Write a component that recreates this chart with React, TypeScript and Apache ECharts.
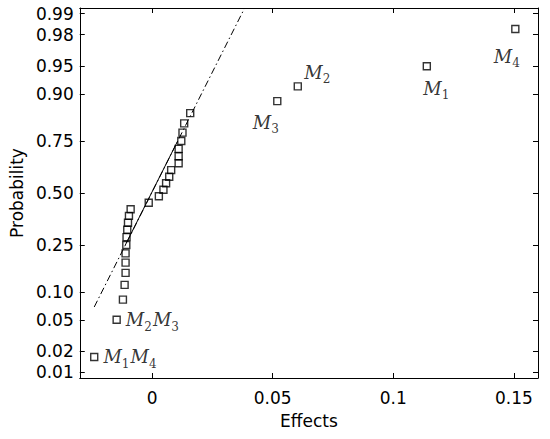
import React, { useEffect, useRef } from "react";
import * as echarts from "echarts";

// Sorted effects and their plotting probabilities
const effects = [
  -0.024, -0.0147, -0.0121, -0.0114, -0.011, -0.011, -0.011, -0.0107, -0.0106, -0.0103,
  -0.01, -0.0096, -0.0089, -0.0014, 0.0028, 0.0047, 0.0058, 0.0071, 0.0079, 0.011,
  0.011, 0.011, 0.0121, 0.0126, 0.0133, 0.0158, 0.0519, 0.0604, 0.1139, 0.1506,
];
const probabilities = [
  0.0167, 0.05, 0.0833, 0.1167, 0.15, 0.1833, 0.2167, 0.25, 0.2833, 0.3167,
  0.35, 0.3833, 0.4167, 0.45, 0.4833, 0.5167, 0.55, 0.5833, 0.6167, 0.65,
  0.6833, 0.7167, 0.75, 0.7833, 0.8167, 0.85, 0.8833, 0.9167, 0.95, 0.9833,
];

// Labelled points: index in the arrays above, subscripts
const labelIndex = [0, 1, 26, 27, 28, 29];
const labelSubs = [["1", "4"], ["2", "3"], ["3"], ["2"], ["1"], ["4"]];

// Reference line (dash-dot) and its central solid part, [effect, probability]
const refLine = [
  [-0.024, 0.0696],
  [0.0383, 0.9917],
];
const refSolid = [
  [-0.0111, 0.25],
  [0.0106, 0.75],
];

const probTicks = [0.01, 0.02, 0.05, 0.1, 0.25, 0.5, 0.75, 0.9, 0.95, 0.98, 0.99];
const effectTicks = [0, 0.05, 0.1, 0.15];

function norminv(p: number): number {
  const a = [-3.969683028665376e1, 2.209460984245205e2, -2.759285104469687e2, 1.38357751867269e2, -3.066479806614716e1, 2.506628277459239];
  const b = [-5.447609879822406e1, 1.615858368580409e2, -1.556989798598866e2, 6.680131188771972e1, -1.328068155288572e1];
  const c = [-7.784894002430293e-3, -3.223964580411365e-1, -2.400758277161838, -2.549732539343734, 4.374664141464968, 2.938163982698783];
  const d = [7.784695709041462e-3, 3.224671290700398e-1, 2.445134137142996, 3.754408661907416];
  const pl = 0.02425;
  if (p < pl) {
    const q = Math.sqrt(-2 * Math.log(p));
    return (((((c[0] * q + c[1]) * q + c[2]) * q + c[3]) * q + c[4]) * q + c[5]) / ((((d[0] * q + d[1]) * q + d[2]) * q + d[3]) * q + 1);
  }
  if (p <= 1 - pl) {
    const q = p - 0.5;
    const r = q * q;
    return ((((((a[0] * r + a[1]) * r + a[2]) * r + a[3]) * r + a[4]) * r + a[5]) * q) / (((((b[0] * r + b[1]) * r + b[2]) * r + b[3]) * r + b[4]) * r + 1);
  }
  const q = Math.sqrt(-2 * Math.log(1 - p));
  return -(((((c[0] * q + c[1]) * q + c[2]) * q + c[3]) * q + c[4]) * q + c[5]) / ((((d[0] * q + d[1]) * q + d[2]) * q + d[3]) * q + 1);
}

const SANS = "DejaVu Sans";
const SERIF = "DejaVu Serif";

export default function App() {
  const ref = useRef<HTMLDivElement>(null);
  useEffect(() => {
    document.body.style.margin = "0";
    if (!ref.current) return;
    const chart = echarts.init(ref.current, null, { renderer: "svg" });
    const zTicks = probTicks.map(norminv);
    const labelFmt = (v: number) => {
      for (let i = 0; i < zTicks.length; i++) if (Math.abs(zTicks[i] - v) < 1e-6) return probTicks[i].toFixed(2);
      return "";
    };

    const placements: any[] = [
      { position: "right", distance: 5 },
      { position: "right", distance: 5 },
      { position: "inside", offset: [-11, 21] },
      { position: "inside", offset: [20, -14] },
      { position: "inside", offset: [10, 22] },
      { position: "inside", offset: [-8, 27] },
    ];

    const rich = {
      m: { fontFamily: SERIF, fontStyle: "italic", fontSize: 18, color: "#000", lineHeight: 22 },
      s: { fontFamily: SERIF, fontSize: 12, color: "#000", lineHeight: 13, verticalAlign: "bottom", padding: [0, 1, -2, 0] },
    };

    const pts = effects.map((x, i) => {
      const item: any = { value: [x, norminv(probabilities[i])] };
      const li = labelIndex.indexOf(i);
      if (li >= 0) {
        const txt = labelSubs[li].map((s) => `{m|M}{s|${s}}`).join("");
        item.label = { show: true, formatter: txt, rich, ...placements[li] };
      }
      return item;
    });

    const axisLine = { show: true, onZero: false, lineStyle: { color: "#000", width: 1 } };
    const tick = (vals: number[]) => ({ show: true, inside: true, length: 5, lineStyle: { color: "#000", width: 1 }, customValues: vals });

    chart.setOption({
      animation: false,
      backgroundColor: "#fff",
      grid: { left: 77, right: 12, top: 8, bottom: 61 },
      xAxis: [
        {
          type: "value",
          min: -0.03,
          max: 0.16,
          position: "bottom",
          axisLine,
          axisTick: tick(effectTicks),
          axisLabel: { customValues: effectTicks, formatter: (v: number) => String(v), fontFamily: SANS, fontSize: 17, color: "#000", margin: 11 },
          splitLine: { show: false },
          name: "Effects",
          nameLocation: "middle",
          nameGap: 34,
          nameTextStyle: { fontFamily: SANS, fontSize: 17, color: "#000" },
        },
        {
          type: "value",
          min: -0.03,
          max: 0.16,
          position: "top",
          axisLine,
          axisTick: tick(effectTicks),
          axisLabel: { show: false },
          splitLine: { show: false },
        },
      ],
      yAxis: [
        {
          type: "value",
          min: -2.4,
          max: 2.4,
          position: "left",
          axisLine,
          axisTick: tick(zTicks),
          axisLabel: { customValues: zTicks, formatter: labelFmt, fontFamily: SANS, fontSize: 17, color: "#000", margin: 6 },
          splitLine: { show: false },
          name: "Probability",
          nameLocation: "middle",
          nameGap: 50,
          nameTextStyle: { fontFamily: SANS, fontSize: 17, color: "#000" },
        },
        {
          type: "value",
          min: -2.4,
          max: 2.4,
          position: "right",
          axisLine,
          axisTick: tick(zTicks),
          axisLabel: { show: false },
          splitLine: { show: false },
        },
      ],
      series: [
        {
          type: "line",
          data: refLine.map(([x, p]) => [x, norminv(p)]),
          symbol: "none",
          lineStyle: { color: "#000", width: 1, type: [7, 3, 1.5, 3] },
          z: 1,
        },
        {
          type: "line",
          data: refSolid.map(([x, p]) => [x, norminv(p)]),
          symbol: "none",
          lineStyle: { color: "#000", width: 1, type: "solid" },
          z: 1,
        },
        {
          type: "scatter",
          data: pts,
          symbol: "rect",
          symbolSize: 7,
          itemStyle: { color: "rgba(0,0,0,0)", borderColor: "#000", borderWidth: 1.4 },
          z: 2,
        },
      ],
    });
    return () => chart.dispose();
  }, []);
  return <div ref={ref} style={{ width: 550, height: 439 }} />;
}
